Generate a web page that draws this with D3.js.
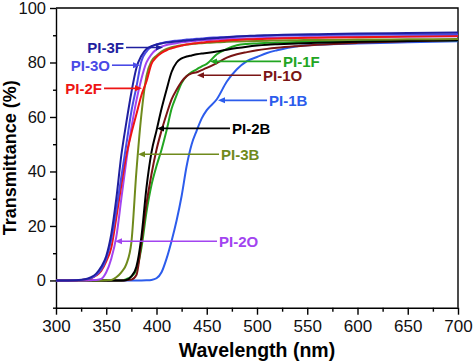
<!DOCTYPE html>
<html>
<head>
<meta charset="utf-8">
<script src="https://cdn.jsdelivr.net/npm/d3@7"></script>
<style>
	body { margin: 0; background: #fff; }
	.axis path, .axis line { stroke: #000; stroke-width: 1.4px; }
	.axis text { font-family: "Liberation Sans", Arial, sans-serif; font-size: 17px; fill: #111; }
	.line { fill: none; stroke-width: 2px; }
</style>
</head>
<body>
<div id="chart"></div>
<script>

// wavelength grid (nm) shared by every sample
var wavelength = [300, 320, 330, 335, 340, 345, 350, 355, 360, 365, 370, 375, 380, 385, 390, 395, 400,
	405, 410, 415, 420, 425, 430, 435, 440, 445, 450, 460, 470, 480, 490, 500, 510, 520, 540, 560, 600, 650, 700];

// transmittance (%)
var PI3F = [0, 0.1, 0.5, 1.2, 2.5, 5, 9, 17, 30, 46, 58, 69, 78, 82.5, 85, 86, 86.6, 87, 87.3, 87.5, 87.7,
	87.9, 88.1, 88.2, 88.4, 88.5, 88.7, 89, 89.3, 89.5, 89.7, 89.9, 90, 90.1, 90.3, 90.4, 90.6, 90.8, 91];
var PI3O = [0, 0.1, 0.4, 0.9, 2, 4, 8, 15, 26, 38, 50, 62, 71, 80.5, 84, 85.8, 86.6, 87.1, 87.5, 87.8, 88,
	88.2, 88.4, 88.5, 88.7, 88.8, 89, 89.2, 89.4, 89.5, 89.6, 89.7, 89.8, 89.9, 90, 90.1, 90.2, 90.3, 90.4];
var PI2F = [0, 0.1, 0.4, 0.8, 1.8, 3.5, 7, 12, 23, 35, 46, 54, 61, 68, 73, 79.5, 82, 83.5, 84.5, 85.2, 85.8,
	86.2, 86.6, 86.9, 87.1, 87.3, 87.5, 87.8, 88.1, 88.3, 88.5, 88.6, 88.7, 88.8, 89, 89.1, 89.3, 89.5, 89.7];
var PI2O = [0, 0, 0, 0.1, 0.2, 0.6, 3, 8, 16, 30, 44, 56, 66, 74, 80, 83, 84.8, 85.8, 86.4, 86.8, 87.1,
	87.4, 87.6, 87.8, 88, 88.1, 88.2, 88.4, 88.6, 88.7, 88.8, 88.9, 89, 89.1, 89.2, 89.3, 89.4, 89.5, 89.6];
var PI3B = [0, 0, 0, 0, 0, 0, 0.1, 0.2, 1.2, 3, 6, 14, 40, 61, 75, 80.5, 82.5, 84, 85, 85.6, 86,
	86.3, 86.6, 86.8, 87, 87.1, 87.2, 87.4, 87.6, 87.7, 87.8, 87.9, 88, 88.1, 88.2, 88.3, 88.4, 88.5, 88.6];
var PI2B = [0, 0, 0, 0, 0, 0, 0, 0, 0, 0, 0.2, 1.5, 5, 16, 34, 47, 55, 63, 70, 76.5, 80,
	81.5, 82.2, 82.6, 83, 83.3, 83.5, 84, 84.7, 85.3, 85.8, 86.2, 86.5, 86.7, 87, 87.2, 87.6, 87.9, 88.2];
var PI1O = [0, 0, 0, 0, 0, 0, 0, 0, 0, 0, 0.1, 0.3, 2, 14, 28, 39, 48, 55, 61, 66.5, 70,
	73, 75, 76, 76.4, 77.2, 78, 79.8, 81.8, 83, 83.8, 84.5, 85, 85.4, 86, 86.5, 87.2, 87.8, 88.3];
var PI1F = [0, 0, 0, 0, 0, 0, 0, 0, 0, 0, 0.5, 1.5, 4, 12, 25, 35, 42, 48, 55, 63, 68,
	72.5, 75, 76.5, 77.5, 78.6, 79.5, 83, 85, 86.3, 86.8, 87, 87.2, 87.3, 87.5, 87.6, 87.8, 88, 88.2];
var PI1B = [0, 0, 0, 0, 0, 0, 0, 0, 0, 0, 0, 0, 0, 0, 0.05, 0.2, 0.8, 3, 8, 14.5, 22,
	31, 42, 50, 55, 59.5, 62.5, 66.5, 73, 77.5, 80.5, 82, 83.5, 84.5, 86, 86.5, 87, 87.4, 87.8];

// draw order: back to front
var names = ["PI-1B", "PI-1F", "PI-1O", "PI-2B", "PI-3B", "PI-2O", "PI-2F", "PI-3O", "PI-3F"];
var values = [PI1B, PI1F, PI1O, PI2B, PI3B, PI2O, PI2F, PI3O, PI3F];
var colors = ["#2c5cec", "#22a622", "#7a1515", "#000000", "#6f8a1c", "#a244f0", "#ee1414", "#4a4ae6", "#1f1f9f"];

// label text, arrow tip (wavelength, T) and which side the label sits
var labelNames = ["PI-3F", "PI-3O", "PI-2F", "PI-1F", "PI-1O", "PI-1B", "PI-2B", "PI-3B", "PI-2O"];
var labelY = [85.5, 79, 70.5, 80.4, 75.3, 66.1, 55.8, 46.3, 14.4];
var labelTextX = [367.7, 353.7, 345.8, 525.9, 506, 512, 475.1, 464.2, 462.2];
var labelTipX = [406.5, 383.6, 385.6, 453.2, 440.3, 461.2, 400.5, 381.6, 358.7];

var xTicks = [300, 350, 400, 450, 500, 550, 600, 650, 700];
var yTicks = [0, 20, 40, 60, 80, 100];

function load() {

	var margin = { top: 8, right: 16, bottom: 55.3, left: 56 },
		width = 474 - margin.left - margin.right,
		height = 363 - margin.top - margin.bottom;

	var svg = d3.select("#chart")
		.append("svg")
		.attr("width", 474)
		.attr("height", 363)
		.append("g")
		.attr("transform", "translate(" + margin.left + "," + margin.top + ")");

	var x = d3.scaleLinear().domain([300, 700]).range([0, width]);
	var y = d3.scaleLinear().domain([-10, 100]).range([height, 0]);

	// frame on top and right
	svg.append("path")
		.attr("d", "M0,0H" + width + "V" + height)
		.attr("fill", "none")
		.attr("stroke", "#000")
		.attr("stroke-width", 1.4);

	// minor ticks
	svg.append("g")
		.attr("class", "axis")
		.attr("transform", "translate(0," + height + ")")
		.call(d3.axisBottom(x).tickValues(d3.range(325, 700, 50)).tickSize(4).tickFormat(""))
		.select(".domain").remove();
	svg.append("g")
		.attr("class", "axis")
		.call(d3.axisLeft(y).tickValues([-10, 10, 30, 50, 70, 90]).tickSize(3).tickFormat(""))
		.select(".domain").remove();

	// major axes
	svg.append("g")
		.attr("class", "axis")
		.attr("transform", "translate(0," + height + ")")
		.call(d3.axisBottom(x).tickValues(xTicks).tickSize(7).tickSizeOuter(0).tickPadding(5));

	svg.append("g")
		.attr("class", "axis")
		.call(d3.axisLeft(y).tickValues(yTicks).tickSize(6).tickSizeOuter(0).tickPadding(4))
		.selectAll("text").style("font-size", "16.5px");

	// curves
	var line = d3.line()
		.x(function(d, i) { return x(wavelength[i]); })
		.y(function(d) { return y(d); })
		.curve(d3.curveMonotoneX);

	values.forEach(function(v, i) {
		svg.append("path")
			.datum(v)
			.attr("class", "line")
			.attr("stroke", colors[i])
			.attr("d", line);
	});

	// labels with arrows
	labelNames.forEach(function(n, i) {
		var c = colors[names.indexOf(n)];
		var tx = x(labelTextX[i]), tip = x(labelTipX[i]), ly = y(labelY[i]);
		var dir = tip > tx ? 1 : -1;
		var start = tx + dir * 2;

		svg.append("line")
			.attr("x1", start).attr("x2", tip - dir * 5)
			.attr("y1", ly).attr("y2", ly)
			.attr("stroke", c)
			.attr("stroke-width", 1.6);

		svg.append("path")
			.attr("d", "M" + tip + "," + ly + "L" + (tip - dir * 7) + "," + (ly - 3) + "L" + (tip - dir * 7) + "," + (ly + 3) + "Z")
			.attr("fill", c);

		svg.append("text")
			.attr("x", tx)
			.attr("y", ly)
			.attr("dy", "0.36em")
			.attr("text-anchor", dir > 0 ? "end" : "start")
			.style("font-family", "'Liberation Sans', Arial, sans-serif")
			.style("font-weight", "bold")
			.style("font-size", "15px")
			.attr("fill", c)
			.text(n);
	});

	// axis titles
	svg.append("text")
		.attr("x", x(500))
		.attr("y", height + 49)
		.attr("text-anchor", "middle")
		.style("font-family", "'Liberation Sans', Arial, sans-serif")
		.style("font-weight", "bold")
		.style("font-size", "19.5px")
		.text("Wavelength (nm)");

	svg.append("text")
		.attr("transform", "translate(" + (-40) + "," + y(45) + ") rotate(-90)")
		.attr("text-anchor", "middle")
		.style("font-family", "'Liberation Sans', Arial, sans-serif")
		.style("font-weight", "bold")
		.style("font-size", "18px")
		.text("Transmittance (%)");
}

load();
</script>
</body>
</html>
